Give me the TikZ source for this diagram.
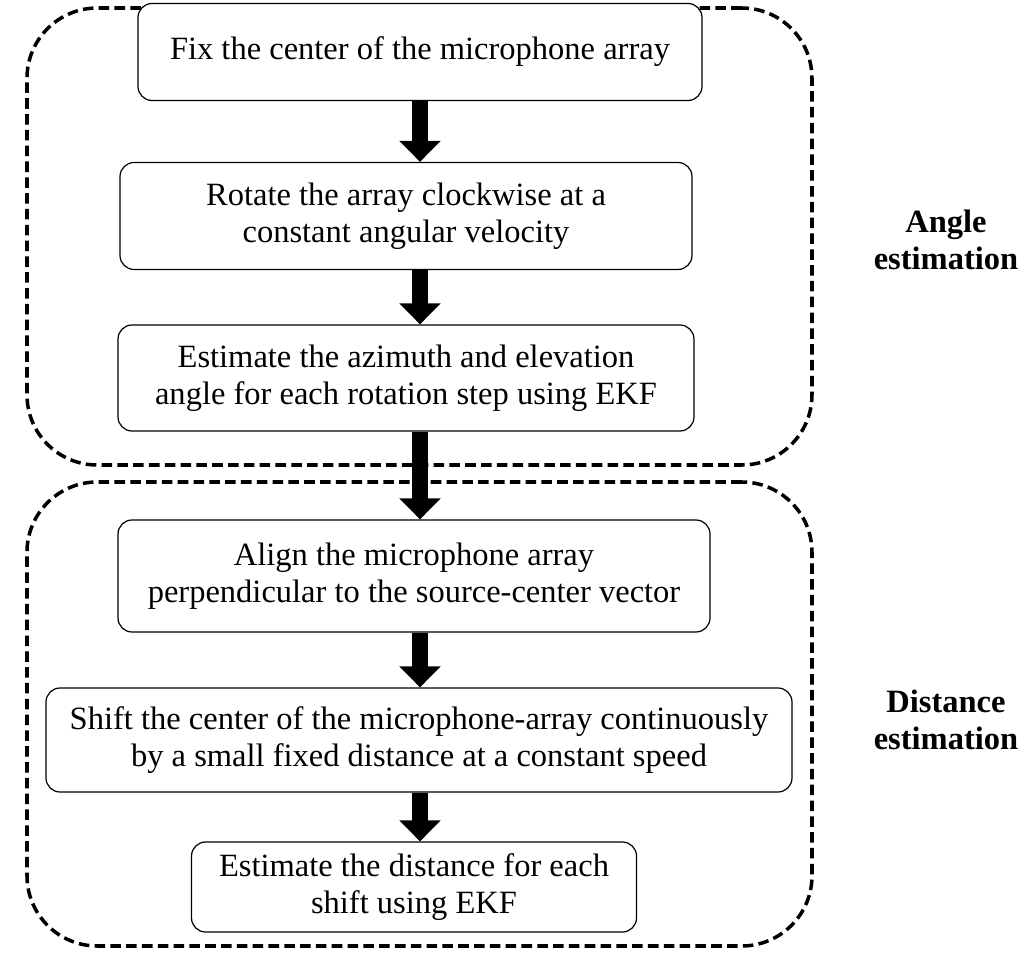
\documentclass[tikz,border=0pt]{standalone}
\usepackage{fontspec}
\setmainfont{Liberation Serif}
\usetikzlibrary{arrows.meta}
\begin{document}
\begin{tikzpicture}[x=0.02cm,y=-0.02cm,
  procbox/.style={draw, fill=white, rounded corners=8pt, line width=0.7pt, align=center,
    font=\fontsize{18.5}{21}\selectfont, inner sep=0pt},
  group/.style={draw, line width=2pt, dash pattern=on 6pt off 3pt, rounded corners=40pt},
  flow/.style={line width=0.32cm, -{Triangle[width=0.8cm,length=0.42cm]}},
  lbl/.style={align=center, font=\fontsize{18.5}{21}\selectfont\bfseries}]
\useasboundingbox (0,0) rectangle (1029,956);
\node[group, minimum width=785*0.02cm, minimum height=457*0.02cm] (g1) at (419.5,236.5) {};
\node[group, minimum width=785*0.02cm, minimum height=464*0.02cm] (g2) at (419.5,714) {};
\node[procbox, minimum width=564*0.02cm, minimum height=97*0.02cm] (b1) at (420,52) {Fix the center of the microphone array};
\node[procbox, minimum width=572*0.02cm, minimum height=107*0.02cm] (b2) at (406,216) {Rotate the array clockwise at a\\constant angular velocity};
\node[procbox, minimum width=576*0.02cm, minimum height=106*0.02cm] (b3) at (406,378) {Estimate the azimuth and elevation\\angle for each rotation step using EKF};
\node[procbox, minimum width=592*0.02cm, minimum height=112*0.02cm] (b4) at (414,576) {Align the microphone array\\perpendicular to the source-center vector};
\node[procbox, minimum width=746*0.02cm, minimum height=104*0.02cm] (b5) at (419,740) {Shift the center of the microphone-array continuously\\by a small fixed distance at a constant speed};
\node[procbox, minimum width=445*0.02cm, minimum height=90*0.02cm] (b6) at (414,887) {Estimate the distance for each\\shift using EKF};
\node[lbl] (l1) at (946,240) {Angle\\estimation};
\node[lbl] (l2) at (946,720) {Distance\\estimation};
\draw[flow] (b1.south -| 420,0) -- (b2.north -| 420,0);
\draw[flow] (b2.south -| 420,0) -- (b3.north -| 420,0);
\draw[flow] (b3.south -| 420,0) -- (b4.north -| 420,0);
\draw[flow] (b4.south -| 420,0) -- (b5.north -| 420,0);
\draw[flow] (b5.south -| 420,0) -- (b6.north -| 420,0);
\end{tikzpicture}
\end{document}
